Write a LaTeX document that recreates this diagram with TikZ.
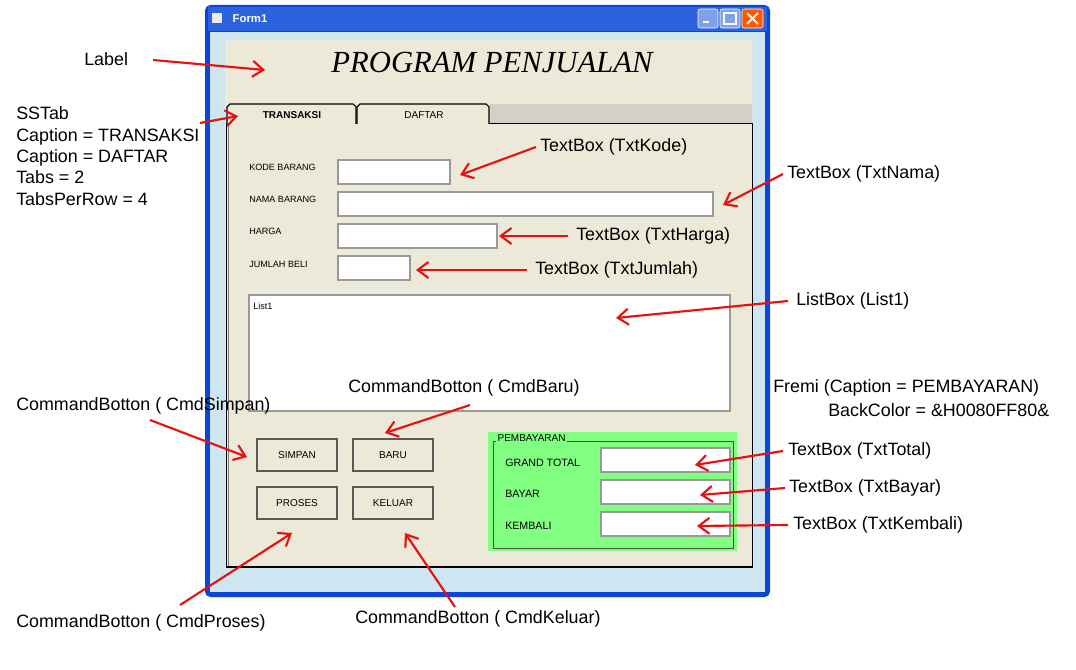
\documentclass[tikz,border=0pt]{standalone}
\usepackage{fontspec}
\setmainfont{Liberation Sans}
\newfontfamily\titlefont{Liberation Serif}
\usetikzlibrary{arrows.meta}
\definecolor{winblue}{HTML}{0A46D8}
\definecolor{titleblue}{HTML}{2A62E0}
\definecolor{panel}{HTML}{ECE9D8}
\definecolor{tabband}{HTML}{D4D0C8}
\definecolor{clientbg}{HTML}{CDE6F2}
\definecolor{frameg}{HTML}{80FF80}
\definecolor{redarrow}{HTML}{E81010}
\tikzset{
  ann/.style={anchor=west,inner sep=0pt,font=\fontsize{13.4}{16}\selectfont},
  redarr/.style={draw=redarrow,line width=1.6pt,-{Straight Barb[length=8pt,width=12pt,line width=1.6pt]}},
  lbl/.style={anchor=west,inner sep=0pt,font=\fontsize{6.8}{8}\selectfont},
  tbox/.style={draw=gray!80,fill=white,line width=0.8pt},
  btn/.style={draw=gray!70!black,fill=panel,line width=0.8pt,font=\fontsize{7.5}{9}\selectfont},
}
\begin{document}
\begin{tikzpicture}[x=0.75pt,y=-0.75pt]
\useasboundingbox (0,0) rectangle (1076,670);
\fill[white] (0,0) rectangle (1076,670);
% window
\fill[winblue,rounded corners=4pt] (205,5) rectangle (770,597);
\fill[titleblue] (208,7) rectangle (767,31);
\fill[clientbg] (210,32) rectangle (765,592);
\node[anchor=west,text=white,font=\bfseries\fontsize{8.5}{10}\selectfont] (title) at (228,19) {Form1};
\fill[white!85!gray] (212,13) rectangle (222,23);
\fill[titleblue!60!white,draw=white,rounded corners=1.5pt] (698,9) rectangle (718,28);
\fill[titleblue!60!white,draw=white,rounded corners=1.5pt] (720,9) rectangle (740,28);
\fill[orange!70!red,draw=white,rounded corners=1.5pt] (742,9) rectangle (763,28);
\draw[white,line width=1.5pt] (703,22)--(709,22);
\draw[white,line width=1.2pt] (724,13) rectangle (736,24);
\draw[white,line width=1.5pt] (747,13)--(758,24) (758,13)--(747,24);
% panel
\fill[panel] (225,40) rectangle (752,567);
\node[font=\titlefont\itshape\fontsize{23}{26}\selectfont] (prog) at (492,63) {PROGRAM PENJUALAN};
\fill[tabband] (490,104) rectangle (752,124);
\draw[black,line width=0.8pt] (227,124) rectangle (752,567);
\fill[panel] (227,124.5) rectangle (751.5,566.5);
\draw[gray,line width=0.6pt] (228,125) -- (228,566);
\draw[fill=panel,line width=0.8pt] (227,124)--(227,107)--(230,104)--(353,104)--(356,107)--(356,124);
\draw[fill=panel,line width=0.8pt] (357,124)--(357,107)--(360,104)--(486,104)--(489,107)--(489,124);
\fill[panel] (228,122) rectangle (355,126);
\node[font=\bfseries\fontsize{7.5}{9}\selectfont] (ttrans) at (292,115) {TRANSAKSI};
\node[font=\fontsize{7.5}{9}\selectfont] (tdaftar) at (424,115) {DAFTAR};
% labels
\node[lbl] (lkode) at (249,167) {KODE BARANG};
\node[lbl] (lnama) at (249,199) {NAMA BARANG};
\node[lbl] (lharga) at (249,231) {HARGA};
\node[lbl] (ljml) at (249,264) {JUMLAH BELI};
\draw[tbox] (338,160) rectangle (450,184);
\draw[tbox] (338,192) rectangle (713,216);
\draw[tbox] (338,224) rectangle (497,248);
\draw[tbox] (338,256) rectangle (410,280);
\draw[tbox] (249,295) rectangle (730,411);
\node[lbl] (list1) at (253,306) {List1};
% buttons
\node[btn,minimum width=60pt,minimum height=24pt] (simpan) at (297,455) {SIMPAN};
\node[btn,minimum width=60pt,minimum height=24pt] (baru) at (393,455) {BARU};
\node[btn,minimum width=60pt,minimum height=24pt] (proses) at (297,503) {PROSES};
\node[btn,minimum width=60pt,minimum height=24pt] (keluar) at (393,503) {KELUAR};
% frame
\fill[frameg] (488,432) rectangle (737,551);
\draw[gray!60!black,line width=0.6pt] (493,441) rectangle (733,548);
\node[anchor=west,fill=frameg,inner sep=1pt,font=\fontsize{7.5}{9}\selectfont] (pemb) at (496,438) {PEMBAYARAN};
\node[lbl,font=\fontsize{8}{9}\selectfont] (lgt) at (505,463) {GRAND TOTAL};
\node[lbl,font=\fontsize{8}{9}\selectfont] (lby) at (505,494) {BAYAR};
\node[lbl,font=\fontsize{8}{9}\selectfont] (lkb) at (505,526) {KEMBALI};
\draw[tbox] (601,448) rectangle (730,472);
\draw[tbox] (601,480) rectangle (730,504);
\draw[tbox] (601,512) rectangle (730,536);
% annotations
\node[ann] (aLabel) at (84,59) {Label};
\node[ann,align=left] (aTab) at (16,156) {SSTab\\Caption = TRANSAKSI\\Caption = DAFTAR\\Tabs = 2\\TabsPerRow = 4};
\node[ann] (aKode) at (540,147) {TextBox (TxtKode)};
\node[ann] (aNama) at (787,174) {TextBox (TxtNama)};
\node[ann] (aHarga) at (576,236) {TextBox (TxtHarga)};
\node[ann] (aJml) at (535,270) {TextBox (TxtJumlah)};
\node[ann] (aList) at (796,301) {ListBox (List1)};
\node[ann] (aBaru) at (348,388) {CommandBotton ( CmdBaru)};
\node[ann] (aSimpan) at (16,406) {CommandBotton ( CmdSimpan)};
\node[ann] (aFrame) at (773,388) {Fremi (Caption = PEMBAYARAN)};
\node[ann] (aBack) at (828,410) {BackColor = \&H0080FF80\&};
\node[ann] (aTot) at (788,451) {TextBox (TxtTotal)};
\node[ann] (aBay) at (789,488) {TextBox (TxtBayar)};
\node[ann] (aKem) at (793,525) {TextBox (TxtKembali)};
\node[ann] (aPro) at (16,623) {CommandBotton ( CmdProses)};
\node[ann] (aKel) at (355,619) {CommandBotton ( CmdKeluar)};
% arrow targets
\coordinate (tLabel) at (265,70);
\coordinate (sTab) at (200,123);
\coordinate (tTab) at (238,116);
\coordinate (tKode) at (460,175);
\coordinate (tNama) at (723,205);
\coordinate (tHarga) at (499,236);
\coordinate (tJml) at (416,270);
\coordinate (tList) at (616,318);
\coordinate (tBaru) at (385,433);
\coordinate (tSimpan) at (247,457);
\coordinate (tTot) at (695,465);
\coordinate (tBay) at (700,495);
\coordinate (tKem) at (697,526);
\coordinate (tPro) at (292,533);
\coordinate (tKel) at (405,533);
\draw[redarr] (153,60) -- (tLabel);
\draw[redarr] (sTab) -- (tTab);
\draw[redarr] (aKode.west) ++(-4,0) -- (tKode);
\draw[redarr] (aNama.west) ++(-4,0) -- (tNama);
\draw[redarr] (aHarga.west) ++(-8,0) -- (tHarga);
\draw[redarr] (aJml.west) ++(-8,0) -- (tJml);
\draw[redarr] (aList.west) ++(-8,0) -- (tList);
\draw[redarr] (470,405) -- (tBaru);
\draw[redarr] (150,420) -- (tSimpan);
\draw[redarr] (aTot.west) ++(-5,0) -- (tTot);
\draw[redarr] (aBay.west) ++(-4,0) -- (tBay);
\draw[redarr] (aKem.west) ++(-5,0) -- (tKem);
\draw[redarr] (180,605) -- (tPro);
\draw[redarr] (455,607) -- (tKel);
\end{tikzpicture}
\end{document}
